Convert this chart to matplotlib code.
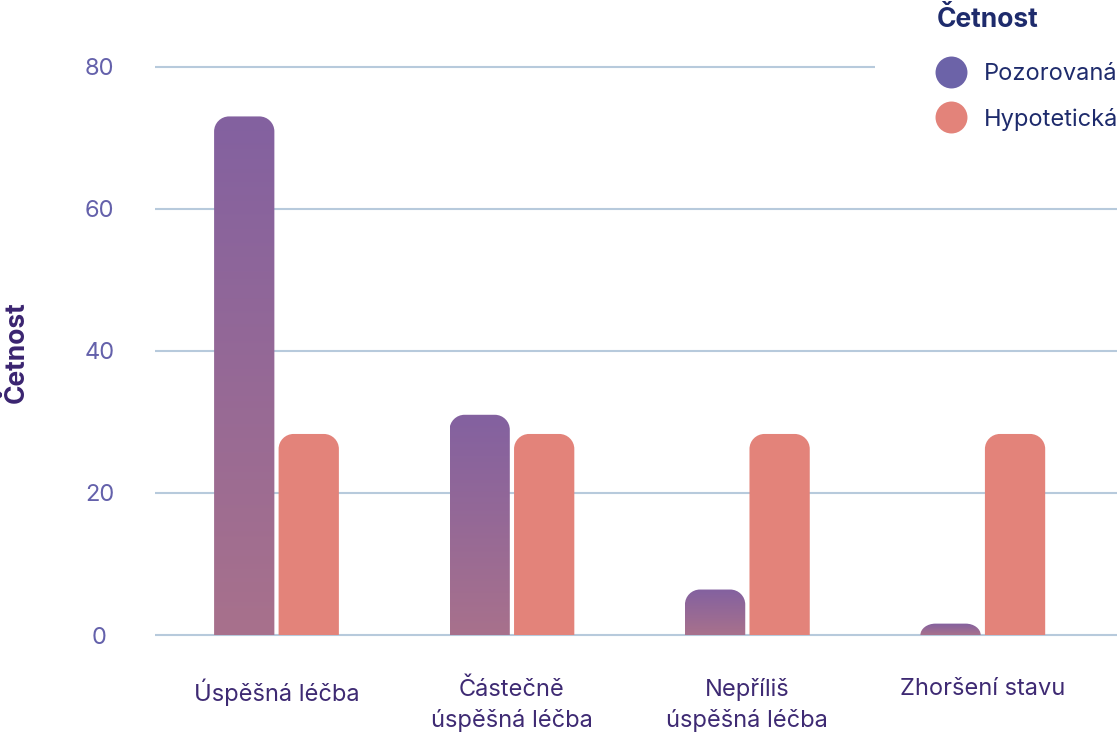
import matplotlib
matplotlib.use('Agg')
import matplotlib.pyplot as plt
import numpy as np
from matplotlib.path import Path
from matplotlib.patches import PathPatch, Rectangle
from matplotlib.lines import Line2D
from matplotlib.colors import LinearSegmentedColormap

categories = ["Úspěšná léčba", "Částečně\núspěšná léčba", "Nepříliš\núspěšná léčba", "Zhoršení stavu"]
observed = [73, 31, 6.4, 1.6]
hypothetical = [28.3, 28.3, 28.3, 28.3]
series_names = ["Pozorovaná", "Hypotetická"]
yticks = [0, 20, 40, 60, 80]
axis_title = "Četnost"

plt.rcParams['font.family'] = ['Inter', 'DejaVu Sans']

W, H = 1120, 735
fig = plt.figure(figsize=(W / 100, H / 100), dpi=100)
Y0_PX, Y80_PX = 635.0, 66.7
ylo, yhi = -0.3, 80.3
px_per_y = (Y0_PX - Y80_PX) / 80
L, R = 155, 1117
T = Y80_PX - (yhi - 80) * px_per_y
B = Y0_PX + (0 - ylo) * px_per_y
ax = fig.add_axes([L / W, 1 - B / H, (R - L) / W, (B - T) / H])
xlo, xhi = -0.516, 3.57
px_per_x = (R - L) / (xhi - xlo)

C_TOP = '#8361A0'
C_BOT = '#A8718C'
C_HYP = '#E3837A'
cmap = LinearSegmentedColormap.from_list('obs', [C_BOT, C_TOP])

width = 0.256
off = 0.137
rad_px = 15


def top_rounded(x0, x1, y0, y1):
    rx = rad_px / px_per_x
    ry = rad_px / px_per_y
    h = y1 - y0
    ry = min(ry, h)
    rx = min(rx, (x1 - x0) / 2)
    k = 0.5523
    verts = [(x0, y0), (x0, y1 - ry), (x0, y1 - ry + k * ry), (x0 + rx - k * rx, y1), (x0 + rx, y1),
             (x1 - rx, y1), (x1 - rx + k * rx, y1), (x1, y1 - ry + k * ry), (x1, y1 - ry),
             (x1, y0), (x0, y0)]
    codes = [Path.MOVETO, Path.LINETO, Path.CURVE4, Path.CURVE4, Path.CURVE4, Path.LINETO,
             Path.CURVE4, Path.CURVE4, Path.CURVE4, Path.LINETO, Path.CLOSEPOLY]
    return Path(verts, codes)


grad = np.linspace(0, 1, 256).reshape(-1, 1)
for i, (o, hy) in enumerate(zip(observed, hypothetical)):
    x0 = i - off - width / 2
    x1 = i - off + width / 2
    p = PathPatch(top_rounded(x0, x1, 0, o), facecolor='none', edgecolor='none', transform=ax.transData)
    ax.add_patch(p)
    im = ax.imshow(grad, cmap=cmap, extent=[x0, x1, 0, o], origin='lower', aspect='auto',
                   interpolation='bilinear', zorder=2)
    im.set_clip_path(p)
    x0 = i + off - width / 2
    x1 = i + off + width / 2
    ax.add_patch(PathPatch(top_rounded(x0, x1, 0, hy), facecolor=C_HYP, edgecolor='none', zorder=2))

for s in ax.spines.values():
    s.set_visible(False)
ax.set_yticks(yticks)
ax.grid(axis='y', color='#B7CADC', lw=1.5)
ax.set_axisbelow(True)
ax.tick_params(axis='y', length=0, pad=40, labelcolor='#6461AB', labelsize=17)
for lbl in ax.get_yticklabels():
    lbl.set_ha('center')
ax.set_xticks(range(len(categories)), categories)
ax.tick_params(axis='x', length=0, pad=29.5, labelcolor='#3E2A73', labelsize=17)
for lbl in ax.get_xticklabels():
    lbl.set_linespacing(1.46)
ax.set_autoscale_on(False)
ax.set_xlim(xlo, xhi)
ax.set_ylim(ylo, yhi)

fig.text(17 / W, 1 - 352 / H, axis_title, rotation=90, fontweight='bold', fontsize=19,
         color='#3A2470', ha='center', va='center')

fig.add_artist(Rectangle((875 / W, 1 - 90 / H), 250 / W, 40 / H, transform=fig.transFigure,
                         facecolor='white', edgecolor='none', zorder=3))

handles = [Line2D([], [], ls='none', marker='o', markersize=23, markerfacecolor='#6C63A8', markeredgecolor='none'),
           Line2D([], [], ls='none', marker='o', markersize=23, markerfacecolor=C_HYP, markeredgecolor='none')]
leg = fig.legend(handles, series_names, loc='upper left', bbox_to_anchor=(925 / W, 1 + 5 / H),
                 bbox_transform=fig.transFigure, frameon=False, fontsize=17, borderpad=0,
                 handlelength=1.23, handletextpad=0.76, labelspacing=0.94,
                 title=axis_title, title_fontproperties={'weight': 'bold', 'size': 19}, alignment='left')
leg.get_title().set_color('#1E2B6C')
for t in leg.get_texts():
    t.set_color('#1E2B6C')
leg._legend_box.sep = 22
leg.set_zorder(5)

fig.savefig('out.png', dpi=100)
